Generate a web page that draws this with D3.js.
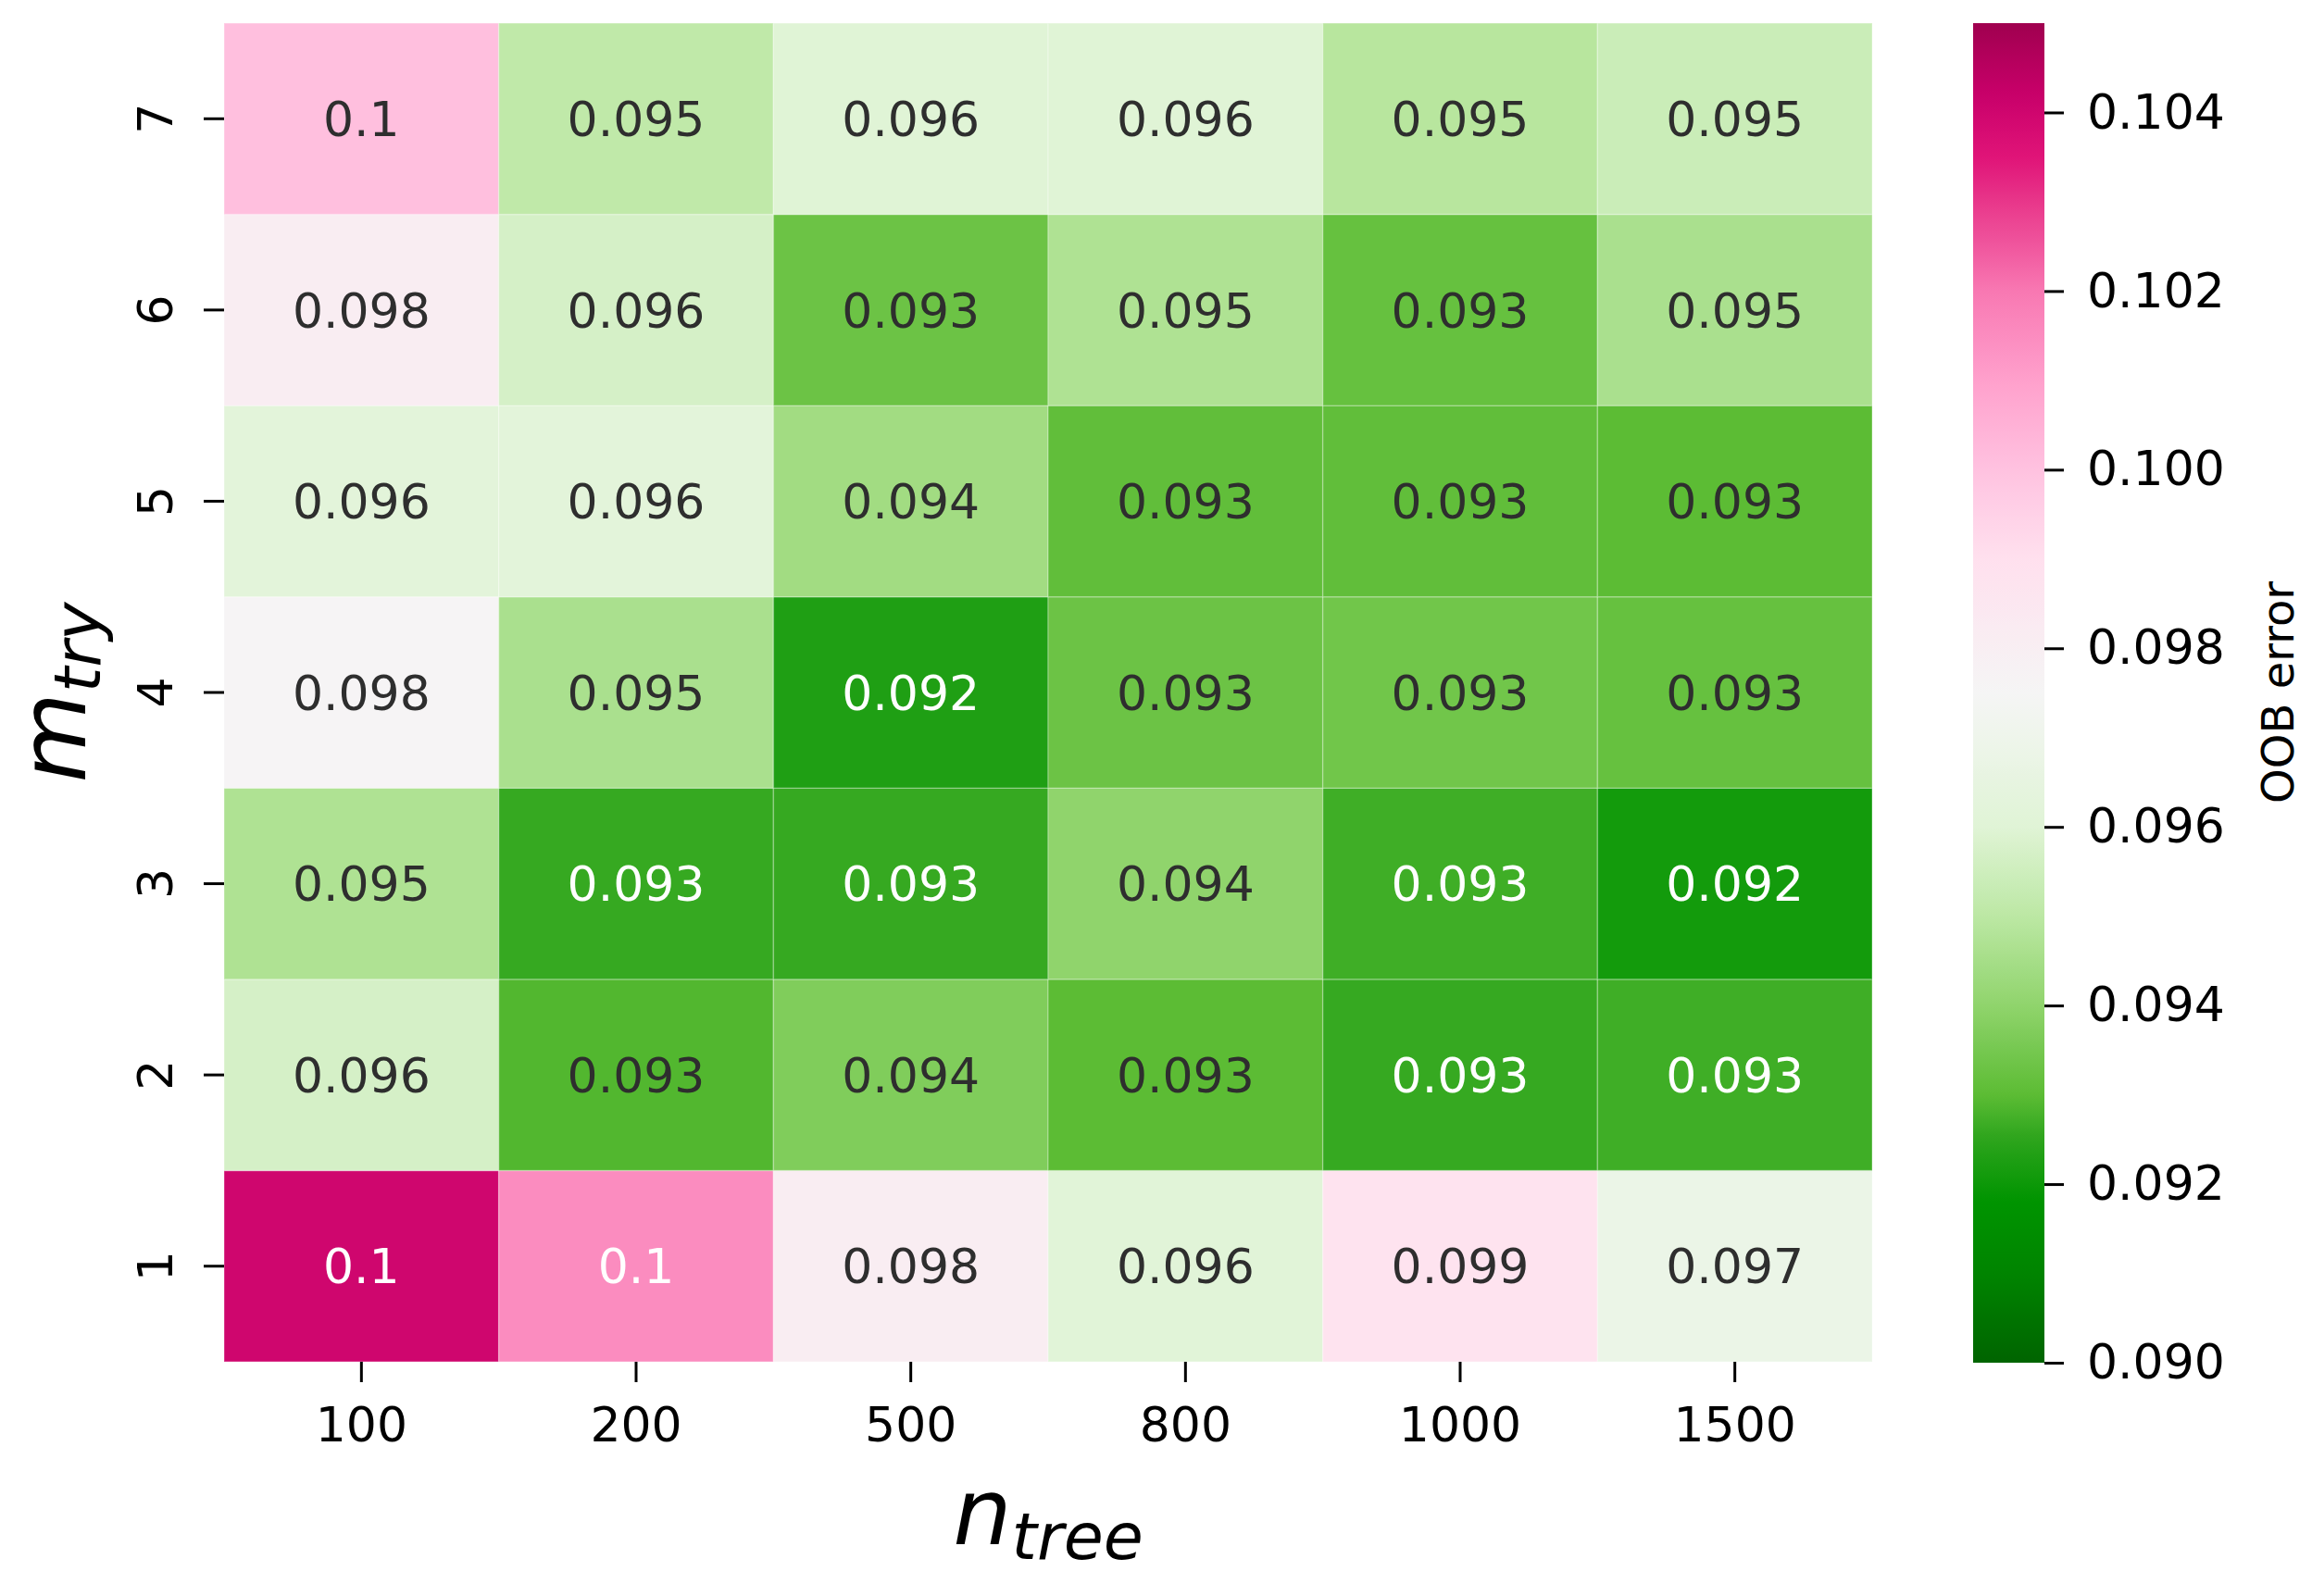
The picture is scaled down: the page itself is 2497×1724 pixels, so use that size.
<!DOCTYPE html>
<html>
<head>
<meta charset="utf-8">
<script src="https://cdn.jsdelivr.net/npm/d3@7"></script>
<style>
  html, body { margin: 0; padding: 0; background: #fff; }
  svg { display: block; font-family: "DejaVu Sans", sans-serif; }
</style>
</head>
<body>
<script>
// categories
const nTree = ["100", "200", "500", "800", "1000", "1500"];
const mTry = ["1", "2", "3", "4", "5", "6", "7"];

// OOB error per m_try row, in nTree order
const mtry1 = [0.1040, 0.1015, 0.0981, 0.0961, 0.0988, 0.0968];
const mtry2 = [0.0957, 0.0929, 0.0937, 0.0930, 0.0926, 0.0927];
const mtry3 = [0.0947, 0.0926, 0.0926, 0.0940, 0.0927, 0.0921];
const mtry4 = [0.0976, 0.0946, 0.0923, 0.0933, 0.0934, 0.0932];
const mtry5 = [0.0962, 0.0962, 0.0944, 0.0931, 0.0931, 0.0930];
const mtry6 = [0.0981, 0.0957, 0.0933, 0.0947, 0.0932, 0.0946];
const mtry7 = [0.1001, 0.0951, 0.0960, 0.0960, 0.0949, 0.0954];

// colour bar ticks
const cbarTicks = [0.090, 0.092, 0.094, 0.096, 0.098, 0.100, 0.102, 0.104];

const rows = [mtry1, mtry2, mtry3, mtry4, mtry5, mtry6, mtry7];
const cells = [];
rows.forEach((vals, i) => vals.forEach((v, j) => cells.push({ m: mTry[i], n: nTree[j], v: v })));

// pink - white - green colormap
const cmapStops = [0.0900, 0.0910, 0.0918, 0.0925, 0.0930, 0.0940, 0.0950, 0.0960, 0.0975,
                   0.0990, 0.1000, 0.1010, 0.1020, 0.1030, 0.1035, 0.1042, 0.1050];
const cmapColors = ["#006400", "#008400", "#009400", "#2ca41c", "#5cbc34", "#90d46c", "#bce8a4",
                    "#e0f4d6", "#f5f5f5", "#ffe0ee", "#ffc2e0", "#ffa0cc", "#f878b2", "#e8368a",
                    "#e01478", "#c8006a", "#a0004f"];
const color = d3.scaleLinear().domain(cmapStops).range(cmapColors).clamp(true);

const W = 2497, H = 1724;
const svg = d3.select("body").append("svg")
  .attr("width", W)
  .attr("height", H);

// scales
const x = d3.scaleBand().domain(nTree).range([242, 2022]);
const y = d3.scaleBand().domain(mTry.slice().reverse()).range([25, 1471]);
const fmt = d3.format(".2~g");

// cells
svg.append("g").selectAll("rect")
  .data(cells)
  .enter()
  .append("rect")
  .attr("x", d => x(d.n))
  .attr("y", d => y(d.m))
  .attr("width", x.bandwidth())
  .attr("height", y.bandwidth())
  .attr("fill", d => color(d.v))
  .attr("stroke", "rgba(255,255,255,0.25)")
  .attr("stroke-width", 1.5);

// annotations
svg.append("g").selectAll("text")
  .data(cells)
  .enter()
  .append("text")
  .attr("x", d => x(d.n) + x.bandwidth() / 2)
  .attr("y", d => y(d.m) + y.bandwidth() / 2)
  .attr("dy", "0.36em")
  .attr("text-anchor", "middle")
  .style("font-size", "52px")
  .attr("fill", d => (d.v <= 0.0927 || d.v >= 0.101) ? "#ffffff" : "#2e2e2e")
  .text(d => fmt(d.v));

// x axis
const xAxis = svg.append("g")
  .attr("transform", "translate(0,1471)")
  .call(d3.axisBottom(x).tickSize(22).tickPadding(27));
xAxis.select(".domain").remove();
xAxis.selectAll("line").attr("stroke", "#000").attr("stroke-width", 3);
xAxis.selectAll("text").style("font-size", "52px").style("font-family", "DejaVu Sans").attr("fill", "#000");

// y axis, labels turned
const yAxis = svg.append("g")
  .attr("transform", "translate(242,0)")
  .call(d3.axisLeft(y).tickSize(22));
yAxis.select(".domain").remove();
yAxis.selectAll("line").attr("stroke", "#000").attr("stroke-width", 3);
yAxis.selectAll("text")
  .attr("x", null).attr("dy", null)
  .attr("transform", "translate(-56,0) rotate(-90)")
  .attr("text-anchor", "middle")
  .style("font-size", "52px").style("font-family", "DejaVu Sans").attr("fill", "#000");

// axis titles
const xt = svg.append("text")
  .attr("x", 1132).attr("y", 1668)
  .attr("text-anchor", "middle")
  .style("font-style", "italic")
  .attr("fill", "#000");
xt.append("tspan").style("font-size", "100px").text("n");
xt.append("tspan").style("font-size", "70px").attr("dy", 16).text("tree");

const yt = svg.append("text")
  .attr("transform", "translate(92,748) rotate(-90)")
  .attr("text-anchor", "middle")
  .style("font-style", "italic")
  .attr("fill", "#000");
yt.append("tspan").style("font-size", "100px").text("m");
yt.append("tspan").style("font-size", "70px").attr("dy", 16).text("try");

// colour bar
const cb = d3.scaleLinear().domain([0.090, 0.105]).range([1472, 25]);
const grad = svg.append("defs").append("linearGradient")
  .attr("id", "cbar")
  .attr("x1", 0).attr("y1", 1).attr("x2", 0).attr("y2", 0);
d3.range(0, 101).forEach(i => {
  const v = 0.090 + i * 0.015 / 100;
  grad.append("stop").attr("offset", (i / 100)).attr("stop-color", color(v));
});
svg.append("rect")
  .attr("x", 2131).attr("y", cb(0.105))
  .attr("width", 77).attr("height", cb(0.090) - cb(0.105))
  .attr("fill", "url(#cbar)");

const cAxis = svg.append("g")
  .attr("transform", "translate(2208,0)")
  .call(d3.axisRight(cb).tickValues(cbarTicks).tickFormat(d3.format(".3f")).tickSize(21).tickPadding(25));
cAxis.select(".domain").remove();
cAxis.selectAll("line").attr("stroke", "#000").attr("stroke-width", 3);
cAxis.selectAll("text").style("font-size", "52px").style("font-family", "DejaVu Sans").attr("fill", "#000");

svg.append("text")
  .attr("transform", "translate(2477,748) rotate(-90)")
  .attr("text-anchor", "middle")
  .style("font-size", "48px")
  .attr("fill", "#000")
  .text("OOB error");
</script>
</body>
</html>
